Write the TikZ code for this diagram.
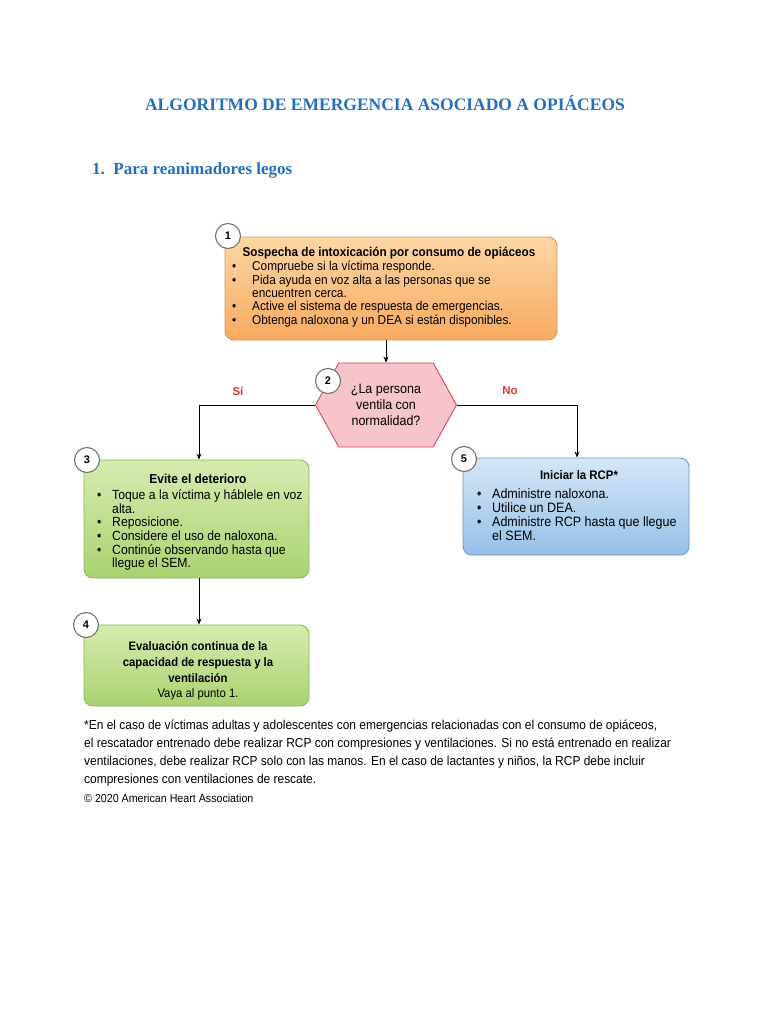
\documentclass[tikz,border=0pt]{standalone}
\usepackage{fontspec}
\setmainfont{Liberation Serif}
\newfontfamily\sansf{Liberation Sans}
\newfontfamily\condf[FakeStretch=0.92]{Liberation Sans}
\usetikzlibrary{shapes.symbols,arrows.meta}
\definecolor{titleblue}{RGB}{38,110,190}
\definecolor{orTop}{RGB}{253,214,165}
\definecolor{orBot}{RGB}{247,170,96}
\definecolor{orLine}{RGB}{214,150,90}
\definecolor{grTop}{RGB}{214,236,176}
\definecolor{grBot}{RGB}{170,210,112}
\definecolor{grLine}{RGB}{140,180,95}
\definecolor{blTop}{RGB}{214,230,246}
\definecolor{blBot}{RGB}{150,192,232}
\definecolor{blLine}{RGB}{110,150,195}
\definecolor{pkFill}{RGB}{247,196,204}
\definecolor{pkLine}{RGB}{215,70,90}
\definecolor{labred}{RGB}{220,55,50}
\newcommand{\blist}[2]{\renewcommand\arraystretch{1}\begin{tabular}{@{}p{#1}@{}l@{}}#2\end{tabular}}
\tikzset{
  box/.style={draw, line width=0.9pt, rounded corners=9pt, inner sep=0pt},
  numc/.style={circle, draw=black!55, line width=1.1pt, fill=white, minimum size=25pt, inner sep=0pt, font=\sansf\bfseries\fontsize{11}{11}\selectfont},
  arr/.style={line width=1pt, -{Stealth[length=6pt,width=5pt]}},
  ln/.style={line width=1pt},
  txt/.style={inner sep=0pt, align=left},
}
\begin{document}
\begin{tikzpicture}[x=1pt,y=-1pt]
\useasboundingbox[fill=white] (0,0) rectangle (768,1024);
% titles
\node[inner sep=0pt, text=titleblue, font=\bfseries\fontsize{17.5}{19}\selectfont] (title) at (385,103) {ALGORITMO DE EMERGENCIA ASOCIADO A OPIÁCEOS};
\node[inner sep=0pt, anchor=west, text=titleblue, font=\bfseries\fontsize{17}{19}\selectfont] (sub) at (92,170) {1.\ \ Para reanimadores legos};
% box 1
\node[box, draw=orLine, top color=orTop, bottom color=orBot, minimum width=332pt, minimum height=103pt] (b1) at (391,288.5) {};
\node[numc] (n1) at (228,236) {1};
\node[txt, font=\condf\bfseries\fontsize{12.75}{13}\selectfont] (b1t) at (389,253) {Sospecha de intoxicación por consumo de opiáceos};
\node[txt, anchor=north west, font=\condf\fontsize{12.85}{13.4}\selectfont] (b1l) at (232,261) {\blist{20pt}{
\textbullet & Compruebe si la víctima responde.\\
\textbullet & Pida ayuda en voz alta a las personas que se\\
 & encuentren cerca.\\
\textbullet & Active el sistema de respuesta de emergencias.\\
\textbullet & Obtenga naloxona y un DEA si están disponibles.}};
% hexagon
\node[signal, signal to=east and west, signal pointer angle=122, draw=pkLine, line width=0.9pt, fill=pkFill, minimum width=141pt, minimum height=84pt, inner sep=0pt, align=center, font=\condf\fontsize{13.6}{15.8}\selectfont] (q) at (386,405) {¿La persona\\ventila con\\normalidad?};
\node[numc] (n2) at (328,381) {2};
\draw[arr] (q.north |- b1.south) -- (q.north);
\node[inner sep=0pt, text=labred, font=\sansf\bfseries\fontsize{11.5}{12}\selectfont] (si) at (238,391) {Sí};
\node[inner sep=0pt, text=labred, font=\sansf\bfseries\fontsize{11.5}{12}\selectfont] (no) at (510,391) {No};
% box 3
\node[box, draw=grLine, top color=grTop, bottom color=grBot, minimum width=225pt, minimum height=118pt] (b3) at (196.5,519) {};
\node[numc] (n3) at (87,460) {3};
\node[txt, font=\condf\bfseries\fontsize{13}{14}\selectfont] (b3t) at (198,478.5) {Evite el deterioro};
\node[txt, anchor=north west, font=\condf\fontsize{13.3}{12.8}\selectfont] (b3l) at (97,490) {\blist{15pt}{
\textbullet & Toque a la víctima y háblele en voz\\
 & alta.\\
\textbullet & Reposicione.\\
\textbullet & Considere el uso de naloxona.\\
\textbullet & Continúe observando hasta que\\
 & llegue el SEM.}};
% box 5
\node[box, draw=blLine, top color=blTop, bottom color=blBot, minimum width=226pt, minimum height=97pt] (b5) at (576,506.5) {};
\node[numc] (n5) at (464,459) {5};
\node[txt, font=\condf\bfseries\fontsize{12.4}{14}\selectfont] (b5t) at (579,475) {Iniciar la RCP*};
\node[txt, anchor=north west, font=\condf\fontsize{13.6}{13.7}\selectfont] (b5l) at (477,488.5) {\blist{15pt}{
\textbullet & Administre naloxona.\\
\textbullet & Utilice un DEA.\\
\textbullet & Administre RCP hasta que llegue\\
 & el SEM.}};
% box 4
\node[box, draw=grLine, top color=grTop, bottom color=grBot, minimum width=225pt, minimum height=81pt] (b4) at (196.5,665.5) {};
\node[numc] (n4) at (86,625) {4};
\node[txt, align=center, font=\condf\bfseries\fontsize{12.3}{15.8}\selectfont] (b4t) at (198,662) {Evaluación continua de la\\capacidad de respuesta y la\\ventilación};
\node[txt, font=\condf\fontsize{12.3}{14}\selectfont] (b4s) at (198,694) {Vaya al punto 1.};
% connectors
\coordinate (cl) at (199,405);
\coordinate (cr) at (577,405);
\draw[ln] (q.west) -- (cl);
\draw[arr] (cl) -- (cl |- b3.north);
\draw[ln] (q.east) -- (cr);
\draw[arr] (cr) -- (cr |- b5.north);
\draw[arr] (b3.south -| cl) -- (b4.north -| cl);
% footnote
\node[txt, anchor=north west, font=\condf\fontsize{13}{18}\selectfont] (fn) at (84,720) {*En el caso de víctimas adultas y adolescentes con emergencias relacionadas con el consumo de opiáceos,\\
el rescatador entrenado debe realizar RCP con compresiones y ventilaciones. Si no está entrenado en realizar\\
ventilaciones, debe realizar RCP solo con las manos. En el caso de lactantes y niños, la RCP debe incluir\\
compresiones con ventilaciones de rescate.};
\node[txt, anchor=west, font=\condf\fontsize{11.6}{13}\selectfont] (cp) at (84,798) {© 2020 American Heart Association};
\end{tikzpicture}
\end{document}
